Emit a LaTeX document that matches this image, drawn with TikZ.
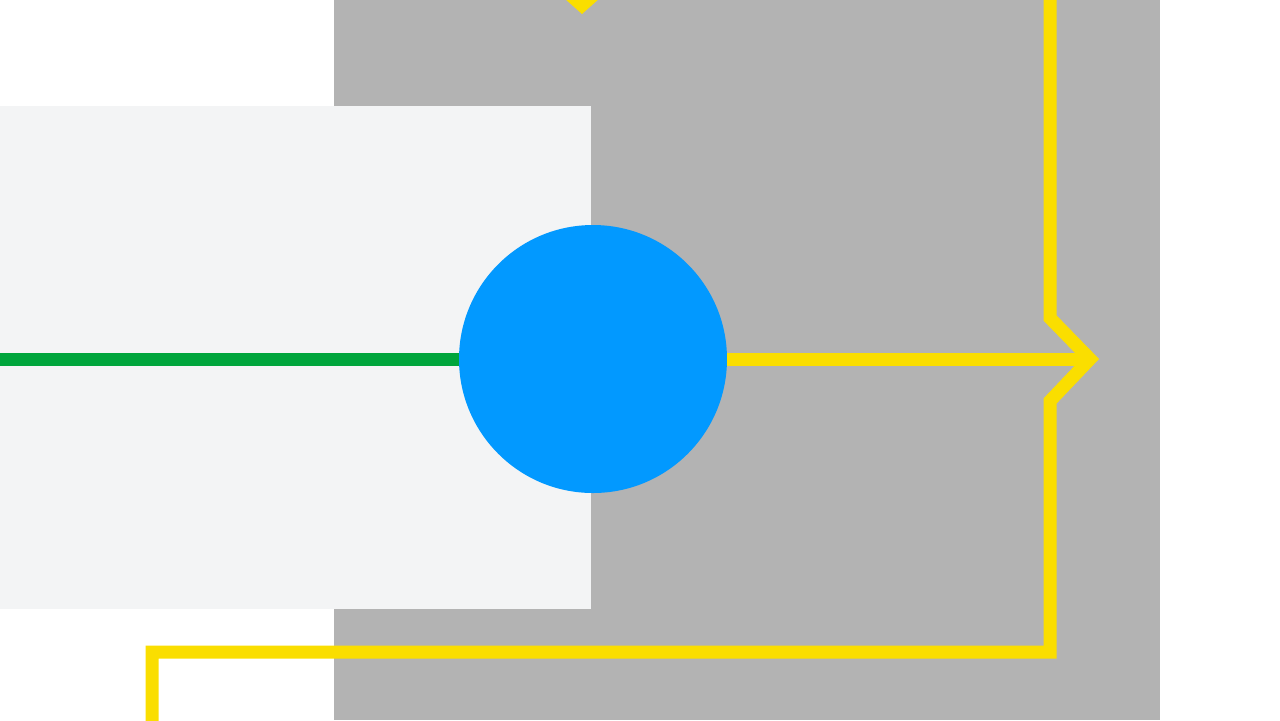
\documentclass[tikz,border=0pt]{standalone}
\usetikzlibrary{positioning}
\definecolor{panelgray}{RGB}{179,179,179}
\definecolor{paperwhite}{RGB}{243,244,245}
\definecolor{hubblue}{RGB}{2,153,255}
\definecolor{wiregreen}{RGB}{0,165,60}
\definecolor{wireyellow}{RGB}{250,222,0}
\tikzset{
  wire/.style={line width=6.5pt},
  hub/.style={circle,fill=hubblue,minimum size=134pt,inner sep=0pt}
}
\begin{document}
\begin{tikzpicture}[x=0.5pt,y=0.5pt,yscale=-1,xscale=1]
\useasboundingbox (0,0) rectangle (1280,720);
\clip (0,0) rectangle (1280,720);

%Shape: Rectangle [gray panel]
\fill [panelgray] (334,0) rectangle (1160,720);
%Shape: Rectangle [light panel]
\fill [paperwhite] (0,106) rectangle (591,609);

%Shape: Circle
\node [hub] (hub) at (593,359) {};

%Straight Lines [green in]
\coordinate (inL) at (0,359);
\draw [wire,color=wiregreen] (inL) -- (hub.west);

%Straight Lines [yellow out]
\coordinate (tip) at (1090,359);
\draw [wire,color=wireyellow] (hub.east) -- (tip);

%Lines [yellow loop with arrow bend]
\draw [wire,color=wireyellow,line join=miter,miter limit=10]
  (152,740) -- (152,652) -- (1050,652) -- (1050,401) -- (tip) -- (1050,318) -- (1050,-20);

%Shape: Triangle [top arrow head]
\fill [wireyellow] (564,-2) -- (600,-2) -- (582,14) -- cycle;

\end{tikzpicture}
\end{document}
